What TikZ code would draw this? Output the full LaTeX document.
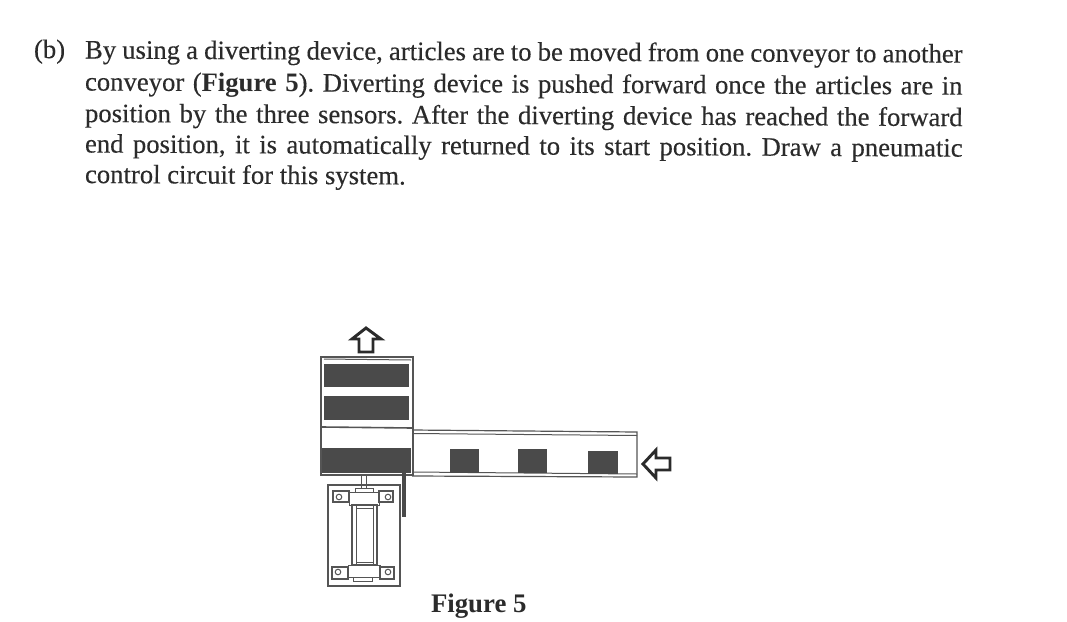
\documentclass[tikz,border=0pt]{standalone}
\usepackage{fontspec}
\setmainfont{Liberation Serif}
\newfontfamily\heavyserif[FakeBold=0.25]{Liberation Serif}
\definecolor{inkc}{HTML}{2B2B2B}
\definecolor{linec}{HTML}{555555}
\definecolor{bandc}{HTML}{4A4A4A}
\newlength{\pxu}\setlength{\pxu}{0.75pt}
\newcommand{\jline}[1]{\makebox[877.5\pxu][s]{\spaceskip=0.25em plus 1em minus 0.2em\relax\xspaceskip=\spaceskip #1}}
\tikzset{
  txt/.style={anchor=base west,inner sep=0pt,outer sep=0pt,text=inkc,font=\fontsize{20}{24}\selectfont\heavyserif\frenchspacing,rotate=-0.27},
  figlabel/.style={anchor=base west,inner sep=0pt,outer sep=0pt,text=inkc,font=\fontsize{20.1}{24}\selectfont\normalfont\bfseries},
  frame/.style={draw=linec,line width=0.9pt},
  thin part/.style={draw=linec,line width=0.75pt},
  band/.style={fill=bandc,draw=none},
  block arrow/.style={draw=inkc,line width=2.2pt,fill=white,line join=miter}
}
\begin{document}
\begin{tikzpicture}[x=0.75pt,y=-0.75pt]
\useasboundingbox (0,0) rectangle (1067,621);
\fill[white] (0,0) rectangle (1067,621);
% text
\node[txt] (lab) at (34,58) {(b)};
\node[txt] (l1) at (85,58.5) {\jline{By using a diverting device, articles are to be moved from one conveyor to another}};
\node[txt] (l2) at (85,90.5) {\jline{conveyor ({\normalfont\bfseries Figure 5}). Diverting device is pushed forward once the articles are in}};
\node[txt] (l3) at (85,122) {\jline{position by the three sensors. After the diverting device has reached the forward}};
\node[txt] (l4) at (85,152.5) {\jline{end position, it is automatically returned to its start position. Draw a pneumatic}};
\node[txt] (l5) at (85,183) {control circuit for this system.};
% upper conveyor
\draw[frame,line width=1.3pt] (321,357) rectangle (413,475);
\draw[thin part] (324,359) -- (411,360);
\fill[band] (324,364) rectangle (409,387);
\fill[band] (324,396) rectangle (409,420);
\draw[frame,line width=1.2pt] (322,427) -- (412,428);
\fill[band] (322,448) rectangle (411,473);
% lower conveyor
\draw[frame] (412,430) -- (637,432) -- (637,477) -- (412,476);
\draw[thin part] (412,433.5) -- (637,435.5);
\draw[thin part] (412,472) -- (637,474);
\draw[thin part] (412,430) -- (412,476);
\fill[band] (450,449) rectangle (479,473);
\fill[band] (518,449) rectangle (547,473);
\fill[band] (588,451) rectangle (618,474);
% stop plate
\fill[bandc] (401.5,473) rectangle (405.5,517);
% cylinder unit
\draw[frame] (328,485) rectangle (400,586);
\draw[thin part] (361,475) rectangle (366,488);
\draw[thin part] (355,488) rectangle (373,492);
\draw[thin part] (349,492) rectangle (379,505);
\draw[frame] (333,491) rectangle (349,502);
\draw[frame] (379,491) rectangle (393,502);
\draw[thin part] (339,497) circle (2.8);
\draw[thin part] (388,497) circle (2.8);
\draw[frame] (352,505) rectangle (377,565);
\draw[thin part] (356,505) rectangle (373,565);
\draw[thin part] (356,508) -- (373,508);
\draw[thin part] (356,562) -- (373,562);
\draw[thin part] (348,565) rectangle (380,577);
\draw[frame] (332,567) rectangle (348,579);
\draw[frame] (380,567) rectangle (394,579);
\draw[thin part] (338,572) circle (2.8);
\draw[thin part] (388,572) circle (2.8);
\draw[thin part] (353,577) rectangle (372,581);
% flow arrows
\draw[block arrow] (366,328) -- (381,339) -- (373,339) -- (373,352) -- (359,352) -- (359,339) -- (352,339) -- cycle;
\draw[block arrow] (643,464) -- (656,450) -- (656,458) -- (670,458) -- (670,470) -- (656,470) -- (656,478) -- cycle;
% caption
\node[figlabel] (cap) at (431,612) {Figure 5};
\end{tikzpicture}
\end{document}
